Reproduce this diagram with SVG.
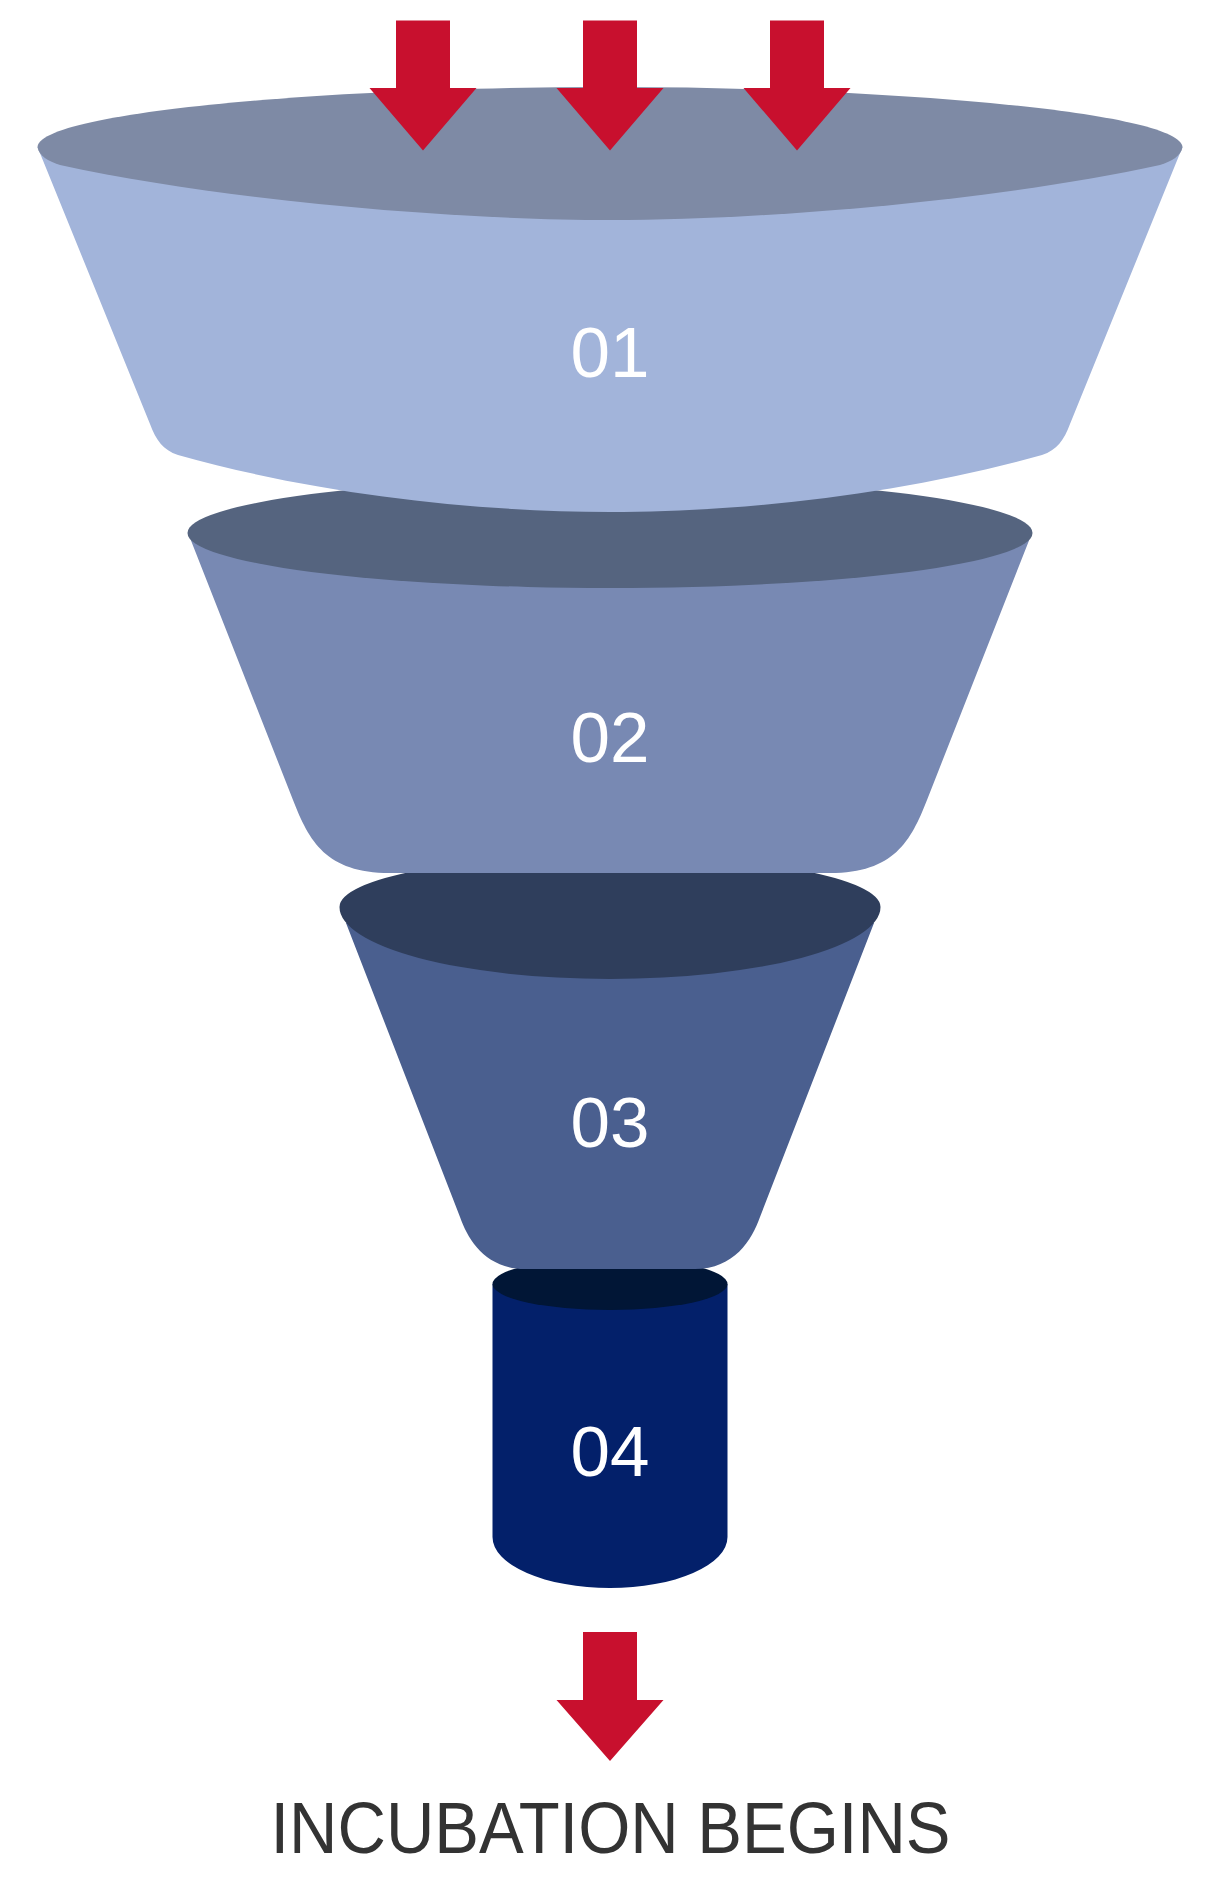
<svg xmlns="http://www.w3.org/2000/svg" width="1208" height="1891" viewBox="0 0 1208 1891">
  <defs>
    <style>
      .num { font-family: "Liberation Sans", Arial, sans-serif; font-size: 71px; fill: #ffffff; text-anchor: middle; }
      .title { font-family: "Liberation Sans", Arial, sans-serif; font-size: 72px; fill: #333333; text-anchor: middle; }
      .arrow { fill: #C8102E; }
    </style>
    <path id="arr" d="M-27,0 L27,0 L27,67.5 L53.5,67.5 L0,130 L-53.5,67.5 L-27,67.5 Z"/>
  </defs>
  <rect width="1208" height="1891" fill="#ffffff"/>

  <g id="stage4">
    <path d="M492.5,1284 L492.5,1537 A117.5,51 0 0 0 727.5,1537 L727.5,1284 Z" fill="#03206A"/>
    <ellipse cx="610" cy="1284" rx="117.5" ry="26" fill="#011636"/>
    <text class="num" x="610" y="1476">04</text>
  </g>

  <g id="stage3">
    <path d="M346,923 L460,1217 C468,1240 486,1269 525,1269 L695,1269 C734,1269 752,1240 760,1217 L874,923 Z" fill="#4A5F8F"/>
    <path d="M339.5,907 A270.5,52 0 0 1 880.5,907 A270.5,72 0 0 1 339.5,907 Z" fill="#2F3E5C"/>
    <text class="num" x="610" y="1147">03</text>
  </g>

  <g id="stage2">
    <path d="M190,538 L293,800 C309,841 326,873 390,873 L830,873 C894,873 911,841 927,800 L1030,538 Z" fill="#7889B3"/>
    <ellipse cx="610" cy="533" rx="422.5" ry="55" fill="#55647F"/>
    <text class="num" x="610" y="762">02</text>
  </g>

  <g id="stage1">
    <path d="M37.5,147 L150,424 C156,440 163,450 178,455 C320,495 480,512 610,512 C740,512 900,495 1042,455 C1057,450 1064,440 1070,424 L1182.5,147 Z" fill="#A2B4DA"/>
    <path d="M37.5,147 C40,112 330,87 610,87 C890,87 1180,112 1182.5,147 C1181,156 1172,161 1160,165 C1000,200 770,220 610,220 C450,220 220,200 60,165 C48,161 39,156 37.5,147 Z" fill="#7E8AA5"/>
    <text class="num" x="610" y="377">01</text>
  </g>

  <g id="connectors">
    <use href="#arr" class="arrow" x="423" y="20.5"/>
    <use href="#arr" class="arrow" x="610" y="20.5"/>
    <use href="#arr" class="arrow" x="797" y="20.5"/>
    <path class="arrow" d="M583,1632 L637,1632 L637,1700 L663.5,1700 L610,1761 L556.5,1700 L583,1700 Z"/>
  </g>

  <g id="label">
    <text class="title" x="610.5" y="1852.5" textLength="680" lengthAdjust="spacingAndGlyphs">INCUBATION BEGINS</text>
  </g>
</svg>
